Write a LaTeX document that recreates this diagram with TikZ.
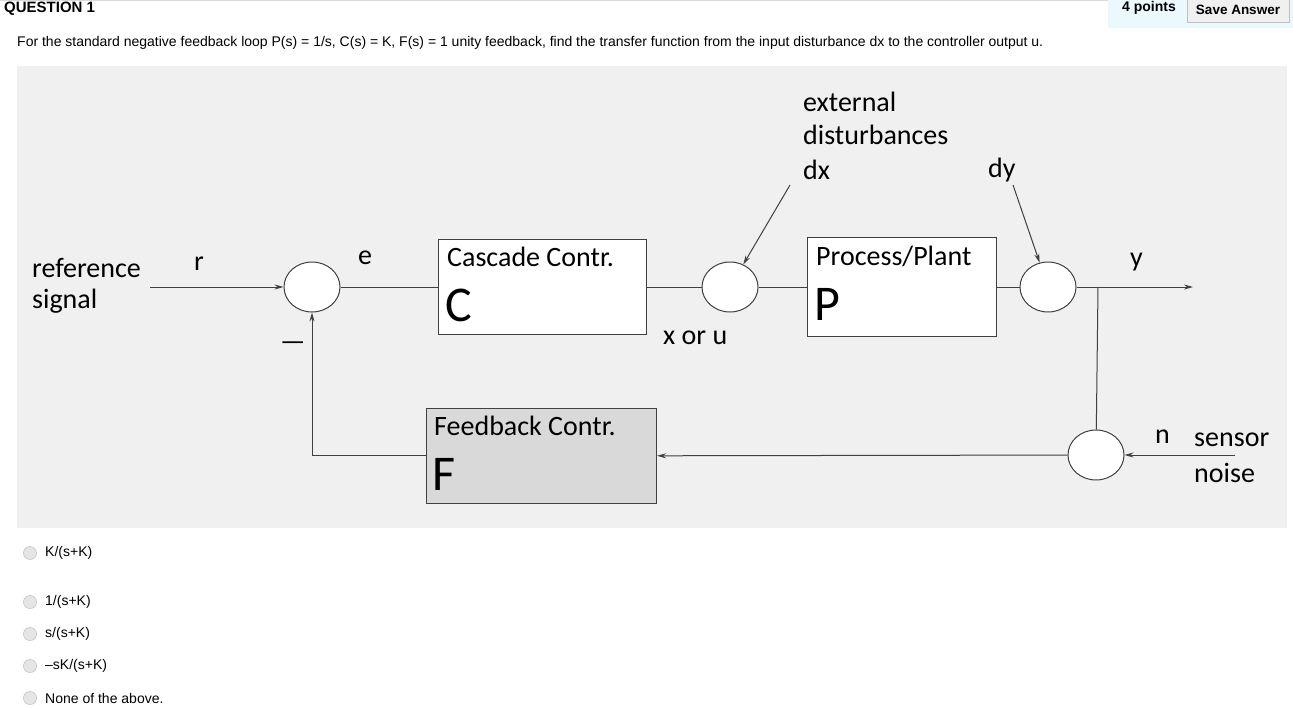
\documentclass[tikz,border=0pt]{standalone}
\usepackage{fontspec}
\setmainfont{Liberation Sans}
\newfontfamily\calfont{Carlito}
\usetikzlibrary{arrows.meta,shapes.geometric}
\begin{document}
\begin{tikzpicture}[x=1pt,y=-1pt,
 sum/.style={draw=black!75,line width=1pt,fill=white,ellipse,minimum width=56pt,minimum height=50pt,inner sep=0},
 blk/.style={draw=black!75,line width=1pt,fill=white,inner sep=0,anchor=north west},
 lbl/.style={font=\calfont\fontsize{28}{28}\selectfont,anchor=west,inner sep=0},
 big/.style={font=\calfont\fontsize{50}{50}\selectfont,anchor=west,inner sep=0},
 ln/.style={draw=black!75,line width=1pt},
 arr/.style={ln,-{Stealth[length=9pt,width=5pt]}},
 q/.style={font=\fontsize{14}{16}\selectfont,anchor=west,inner sep=0},
 radio/.style={circle,draw=black!30,fill=black!10,minimum size=13pt,inner sep=0}]
\useasboundingbox (0,0) rectangle (1293,709);
\fill[white] (0,0) rectangle (1293,709);
% header
\fill[cyan!8] (1108,0) rectangle (1293,28);
\draw[black!15] (0,0.5) -- (1108,0.5);
\node[font=\bfseries\fontsize{15}{16}\selectfont,anchor=west,inner sep=0] (qt) at (4,9) {QUESTION 1};
\node[font=\bfseries\fontsize{14}{16}\selectfont,inner sep=0] (pts) at (1149,8) {4 points};
\node[draw=black!25,fill=black!6,font=\bfseries\fontsize{13.5}{16}\selectfont,minimum width=102pt,minimum height=24pt] (save) at (1238,10) {Save Answer};
\node[q] (qtext) at (17,43) {For the standard negative feedback loop P(s) = 1/s, C(s) = K, F(s) = 1 unity feedback, find the transfer function from the input disturbance dx to the controller output u.};
% diagram background
\fill[black!6] (17,66) rectangle (1287,528);
\node[sum] (s1) at (312,287) {};
\node[sum] (s2) at (730,287) {};
\node[sum] (s3) at (1048,287) {};
\node[sum] (s4) at (1096,455) {};
\node[blk,minimum width=208pt,minimum height=95pt] (C) at (438,239) {};
\node[blk,minimum width=189pt,minimum height=99pt] (P) at (807,237) {};
\node[blk,fill=black!15,minimum width=230pt,minimum height=95pt] (F) at (426,408) {};
\node[lbl] (ct) at (447,257) {Cascade Contr.};
\node[big] (cc) at (445,305) {C};
\node[lbl] (pt) at (816,256) {Process/Plant};
\node[big] (pp) at (814,304) {P};
\node[lbl] (ft) at (434,426) {Feedback Contr.};
\node[big] (ff) at (432,474) {F};
\coordinate (in) at (150,287);
\coordinate (out) at (1193,287);
\coordinate (br) at (1098,287);
\coordinate (nz) at (1235,455);
\coordinate (fb) at (312,455);
\coordinate (dxs) at (790,185);
\coordinate (dys) at (1013,185);
\draw[arr] (in) -- (s1);
\draw[ln] (s1) -- (C);
\draw[ln] (C) -- (s2);
\draw[ln] (s2) -- (P);
\draw[ln] (P) -- (s3);
\draw[arr] (s3) -- (out);
\draw[ln] (br) -- (s4);
\draw[arr] (nz) -- (s4);
\draw[arr] (s4) -- (F);
\draw[arr] (F.west |- fb) -- (fb) -- (s1);
\draw[arr] (dxs) -- (s2);
\draw[arr] (dys) -- (s3);
\node[lbl] (ref) at (32,268) {reference};
\node[lbl] (sig) at (32,301) {signal};
\node[lbl] (r) at (194,264) {r};
\node[lbl] (e) at (358,258) {e};
\node[lbl] (xu) at (663,338) {x or u};
\node[lbl] (ex) at (803,102) {external};
\node[lbl] (di) at (803,135) {disturbances};
\node[lbl] (dx) at (803,170) {dx};
\node[lbl] (dy) at (988,170) {dy};
\node[lbl] (y) at (1130,262) {y};
\node[lbl] (n) at (1155,437) {n};
\node[lbl] (se) at (1194,440) {sensor};
\node[lbl] (no) at (1194,473) {noise};
\node[lbl] (mi) at (280,346) {—};
% answers
\foreach \yy/\t [count=\i] in {553/{K/(s+K)},602/{1/(s+K)},634/{s/(s+K)},666/{--sK/(s+K)},698/{None of the above.}}{
 \node[radio] (r\i) at (30,\yy) {};
 \node[q] (a\i) at (45,\yy) {\t};
}
\end{tikzpicture}
\end{document}
